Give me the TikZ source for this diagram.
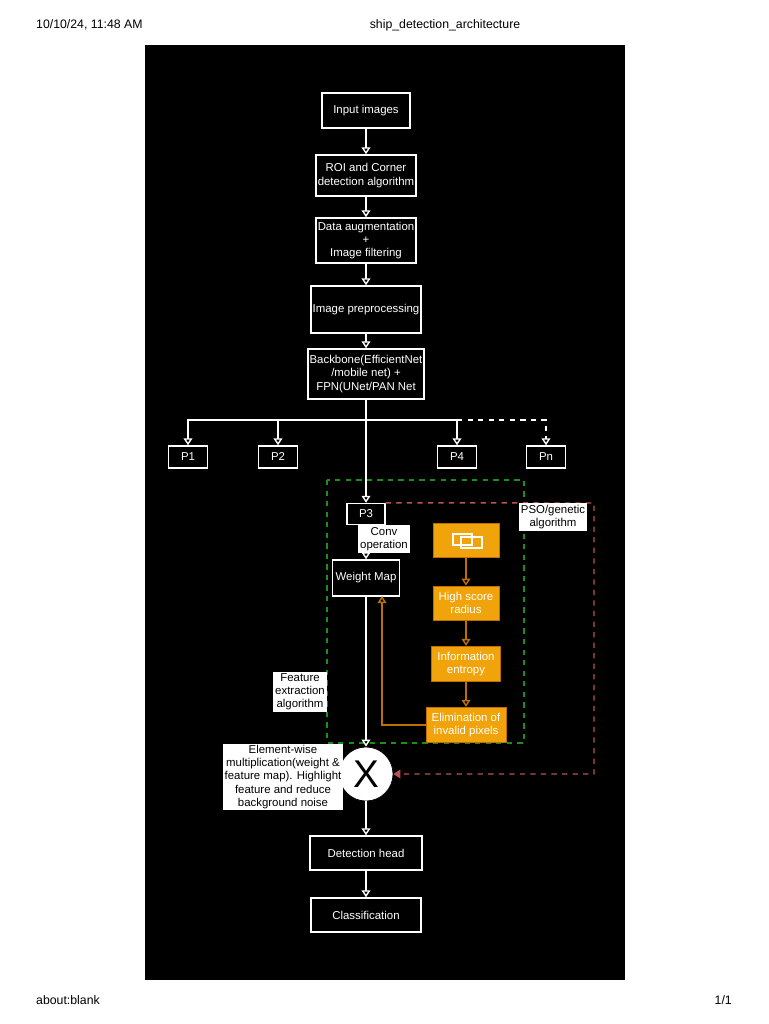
\documentclass[tikz,border=0pt]{standalone}
\usepackage{fontspec}
\setmainfont{Liberation Sans}
\usetikzlibrary{arrows.meta}
\definecolor{org}{HTML}{F0A30A}
\definecolor{orgline}{HTML}{BD7000}
\definecolor{grn}{HTML}{1A8F1A}
\definecolor{rdd}{HTML}{B85450}
\begin{document}
\begin{tikzpicture}[x=0.02cm,y=-0.02cm,font=\fontsize{6.5}{7.5}\selectfont,
 box/.style={draw=white,thick,text=white,align=center,inner sep=1pt},
 obox/.style={fill=org,draw=orgline,text=white,align=center,minimum width=66*0.02cm,minimum height=34*0.02cm},
 lab/.style={fill=white,text=black,align=center,inner sep=1pt},
 wa/.style={draw=white,thick,-{Triangle[open,length=4pt,width=5pt]}},
 oa/.style={draw=orgline,thick,-{Triangle[open,length=4pt,width=5pt]}}]
\useasboundingbox (0,0) rectangle (768,1024);
\fill[white] (0,0) rectangle (768,1024);
\node[anchor=west,font=\fontsize{7}{8}\selectfont] (hd1) at (30,25) {10/10/24, 11:48 AM};
\node[font=\fontsize{7}{8}\selectfont] (hd2) at (445,25) {ship\_detection\_architecture};
\node[anchor=west,font=\fontsize{7}{8}\selectfont] (ft1) at (30,1000) {about:blank};
\node[anchor=east,font=\fontsize{7}{8}\selectfont] (ft2) at (738,1000) {1/1};
\fill[black] (145,45) rectangle (625,980);
\node[box,minimum width=88*0.02cm,minimum height=35*0.02cm] (in) at (366,110.5) {Input images};
\node[box,minimum width=88*0.02cm,minimum height=41*0.02cm] (roi) at (366,175.5) {ROI and Corner\\detection algorithm};
\node[box,minimum width=88*0.02cm,minimum height=45*0.02cm] (da) at (366,240.5) {Data augmentation\\+\\Image filtering};
\node[box,minimum width=100*0.02cm,minimum height=47*0.02cm] (pre) at (366,309.5) {Image preprocessing};
\node[box,minimum width=103*0.02cm,minimum height=50*0.02cm] (bb) at (366,374) {Backbone(EfficientNet\\/mobile net) +\\FPN(UNet/PAN Net};
\foreach \n/\x/\t in {p1/188/P1,p2/278/P2,p4/457/P4,pn/546/Pn}
  \node[box,minimum width=39*0.02cm,minimum height=22*0.02cm] (\n) at (\x,457) {\t};
\draw[grn,thick,dashed] (327,480) rectangle (524,743);
\node[box,minimum width=38*0.02cm,minimum height=21*0.02cm] (p3) at (366,514) {P3};
\node[box,minimum width=67*0.02cm,minimum height=36*0.02cm] (wm) at (366,578) {Weight Map};
\node[obox] (ic) at (466,540) {};
\draw[white,thick] (453,534) rectangle (472,545) (461,537) rectangle (482,548);
\node[obox] (hs) at (466,603) {High score\\radius};
\node[obox] (ie) at (466,664) {Information\\entropy};
\node[obox] (el) at (466,725) {Elimination of\\invalid pixels};
\node[circle,fill=white,draw=black,minimum size=54*0.02cm,inner sep=0pt,font=\fontsize{22}{22}\selectfont] (x) at (366,774) {X};
\node[box,minimum width=112*0.02cm,minimum height=34*0.02cm] (dh) at (366,853) {Detection head};
\node[box,minimum width=110*0.02cm,minimum height=34*0.02cm] (cl) at (366,915) {Classification};
\coordinate (br) at (366,420);
% arrows
\draw[wa] (in) -- (roi);
\draw[wa] (roi) -- (da);
\draw[wa] (da) -- (pre);
\draw[wa] (pre) -- (bb);
\draw[wa] (bb) -- (p3);
\draw[wa] (br) -| (p1);
\draw[wa] (br) -| (p2);
\draw[wa] (br) -| (p4);
\draw[wa,dashed] (p4|-br) -| (pn);
\draw[wa] (p3) -- (wm);
\draw[wa] (wm) -- (x);
\draw[wa] (x) -- (dh);
\draw[wa] (dh) -- (cl);
\draw[oa] (ic) -- (hs);
\draw[oa] (hs) -- (ie);
\draw[oa] (ie) -- (el);
\draw[oa] (el.west) -| (382,596);
\draw[rdd,thick,dashed,-{Triangle[length=4pt,width=5pt]}] (p3.north east) -- (594,503) |- (x.east);
% labels
\node[lab] (conv) at (384,539) {Conv\\operation};
\node[lab] (pso) at (553,517) {PSO/genetic\\algorithm};
\node[lab] (fe) at (300,692) {Feature\\extraction\\algorithm};
\node[lab] (ew) at (283,777) {Element-wise\\multiplication(weight \&\\feature map). Highlight\\feature and reduce\\background noise};
\end{tikzpicture}
\end{document}
